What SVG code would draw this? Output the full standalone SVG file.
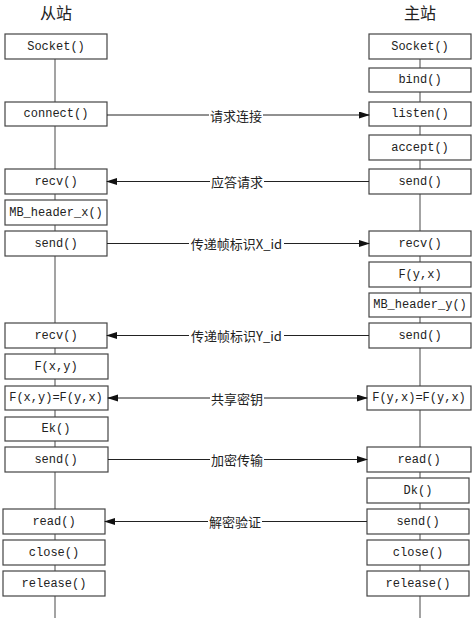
<svg xmlns="http://www.w3.org/2000/svg" width="474" height="622" viewBox="0 0 474 622">
<defs>
<marker id="ah" markerWidth="11" markerHeight="8" refX="10" refY="3.5" orient="auto-start-reverse" markerUnits="userSpaceOnUse"><path d="M0,0 L11,3.5 L0,7 z" fill="#111"/></marker>
<style>
.box{fill:#fff;stroke:#444;stroke-width:1.2}
.bt{font-family:"Liberation Mono","Noto Sans CJK SC",monospace;font-size:12px;fill:#222;text-anchor:middle;dominant-baseline:central}
.life{stroke:#666;stroke-width:1.2}
.msg{stroke:#222;stroke-width:1;fill:none;marker-end:url(#ah)}
.lbl{font-family:"Noto Sans CJK SC","Liberation Sans",sans-serif;font-size:13px;fill:#222;text-anchor:middle;dominant-baseline:central}
.ttl{font-family:"Noto Sans CJK SC",sans-serif;font-size:16px;fill:#222;text-anchor:middle;dominant-baseline:central}
.bg{fill:#fff}
</style>
</defs>
<rect width="474" height="622" fill="#fff"/>
<text class="ttl" x="56" y="12">从站</text>
<text class="ttl" x="420" y="12">主站</text>
<g id="lifelines">
<line class="life" x1="55" y1="59" x2="55" y2="618"/>
<line class="life" x1="420" y1="59" x2="420" y2="618"/>
</g>
<g id="slave">
<g id="s-socket"><rect class="box" x="5" y="34" width="102" height="25"/><text class="bt" x="56" y="46.5">Socket()</text></g>
<g id="s-connect"><rect class="box" x="5" y="102" width="102" height="24"/><text class="bt" x="56" y="114">connect()</text></g>
<g id="s-recv1"><rect class="box" x="5" y="169" width="102" height="25"/><text class="bt" x="56" y="181.5">recv()</text></g>
<g id="s-mbx"><rect class="box" x="5" y="200" width="102" height="25"/><text class="bt" x="56" y="212.5">MB_header_x()</text></g>
<g id="s-send1"><rect class="box" x="5" y="231" width="102" height="25"/><text class="bt" x="56" y="243.5">send()</text></g>
<g id="s-recv2"><rect class="box" x="5" y="323" width="102" height="25"/><text class="bt" x="56" y="335.5">recv()</text></g>
<g id="s-fxy"><rect class="box" x="5" y="354" width="103" height="25"/><text class="bt" x="56" y="366.5">F(x,y)</text></g>
<g id="s-feq"><rect class="box" x="5" y="386" width="103" height="24"/><text class="bt" x="56" y="398">F(x,y)=F(y,x)</text></g>
<g id="s-ek"><rect class="box" x="5" y="417" width="103" height="24"/><text class="bt" x="56" y="429">Ek()</text></g>
<g id="s-send2"><rect class="box" x="5" y="447" width="103" height="25"/><text class="bt" x="56" y="459.5">send()</text></g>
<g id="s-read"><rect class="box" x="3" y="509" width="102" height="25"/><text class="bt" x="54" y="521.5">read()</text></g>
<g id="s-close"><rect class="box" x="3" y="540" width="102" height="25"/><text class="bt" x="54" y="552.5">close()</text></g>
<g id="s-release"><rect class="box" x="3" y="571" width="102" height="25"/><text class="bt" x="54" y="583.5">release()</text></g>
</g>
<g id="master">
<g id="m-socket"><rect class="box" x="369" y="34" width="102" height="25"/><text class="bt" x="420" y="46.5">Socket()</text></g>
<g id="m-bind"><rect class="box" x="369" y="68" width="102" height="24"/><text class="bt" x="420" y="80">bind()</text></g>
<g id="m-listen"><rect class="box" x="369" y="102" width="102" height="24"/><text class="bt" x="420" y="114">listen()</text></g>
<g id="m-accept"><rect class="box" x="369" y="135" width="102" height="25"/><text class="bt" x="420" y="147.5">accept()</text></g>
<g id="m-send1"><rect class="box" x="369" y="169" width="102" height="25"/><text class="bt" x="420" y="181.5">send()</text></g>
<g id="m-recv"><rect class="box" x="369" y="231" width="102" height="25"/><text class="bt" x="420" y="243.5">recv()</text></g>
<g id="m-fyx"><rect class="box" x="369" y="262" width="102" height="25"/><text class="bt" x="420" y="274.5">F(y,x)</text></g>
<g id="m-mby"><rect class="box" x="369" y="293" width="102" height="24"/><text class="bt" x="420" y="305">MB_header_y()</text></g>
<g id="m-send2"><rect class="box" x="369" y="323" width="102" height="25"/><text class="bt" x="420" y="335.5">send()</text></g>
<g id="m-feq"><rect class="box" x="367" y="386" width="104" height="24"/><text class="bt" x="419" y="398">F(y,x)=F(y,x)</text></g>
<g id="m-read"><rect class="box" x="367" y="447" width="104" height="25"/><text class="bt" x="419" y="459.5">read()</text></g>
<g id="m-dk"><rect class="box" x="367" y="478" width="102" height="25"/><text class="bt" x="418" y="490.5">Dk()</text></g>
<g id="m-send3"><rect class="box" x="367" y="509" width="102" height="25"/><text class="bt" x="418" y="521.5">send()</text></g>
<g id="m-close"><rect class="box" x="367" y="540" width="102" height="25"/><text class="bt" x="418" y="552.5">close()</text></g>
<g id="m-release"><rect class="box" x="367" y="571" width="102" height="25"/><text class="bt" x="418" y="583.5">release()</text></g>
</g>
<g id="connectors">
<line class="msg" x1="107" y1="115" x2="369" y2="115"/>
<rect class="bg" x="209" y="106" width="54" height="18"/><text class="lbl" x="236" y="115">请求连接</text>
<line class="msg" x1="369" y1="181.5" x2="107" y2="181.5"/>
<rect class="bg" x="210" y="172" width="54" height="18"/><text class="lbl" x="237" y="181.5">应答请求</text>
<line class="msg" x1="107" y1="243.5" x2="369" y2="243.5"/>
<rect class="bg" x="189" y="234" width="95" height="18"/><text class="lbl" x="236.5" y="243.5">传递帧标识X_id</text>
<line class="msg" x1="369" y1="335.5" x2="107" y2="335.5"/>
<rect class="bg" x="189" y="326" width="95" height="18"/><text class="lbl" x="236.5" y="335.5">传递帧标识Y_id</text>
<line class="msg" x1="108" y1="398" x2="367" y2="398" marker-start="url(#ah)"/>
<rect class="bg" x="210" y="389" width="54" height="18"/><text class="lbl" x="237" y="398">共享密钥</text>
<line class="msg" x1="108" y1="459.5" x2="367" y2="459.5"/>
<rect class="bg" x="210" y="450" width="54" height="18"/><text class="lbl" x="237" y="459.5">加密传输</text>
<line class="msg" x1="367" y1="521.5" x2="105" y2="521.5"/>
<rect class="bg" x="208" y="512" width="54" height="18"/><text class="lbl" x="235" y="521.5">解密验证</text>
</g>
</svg>
